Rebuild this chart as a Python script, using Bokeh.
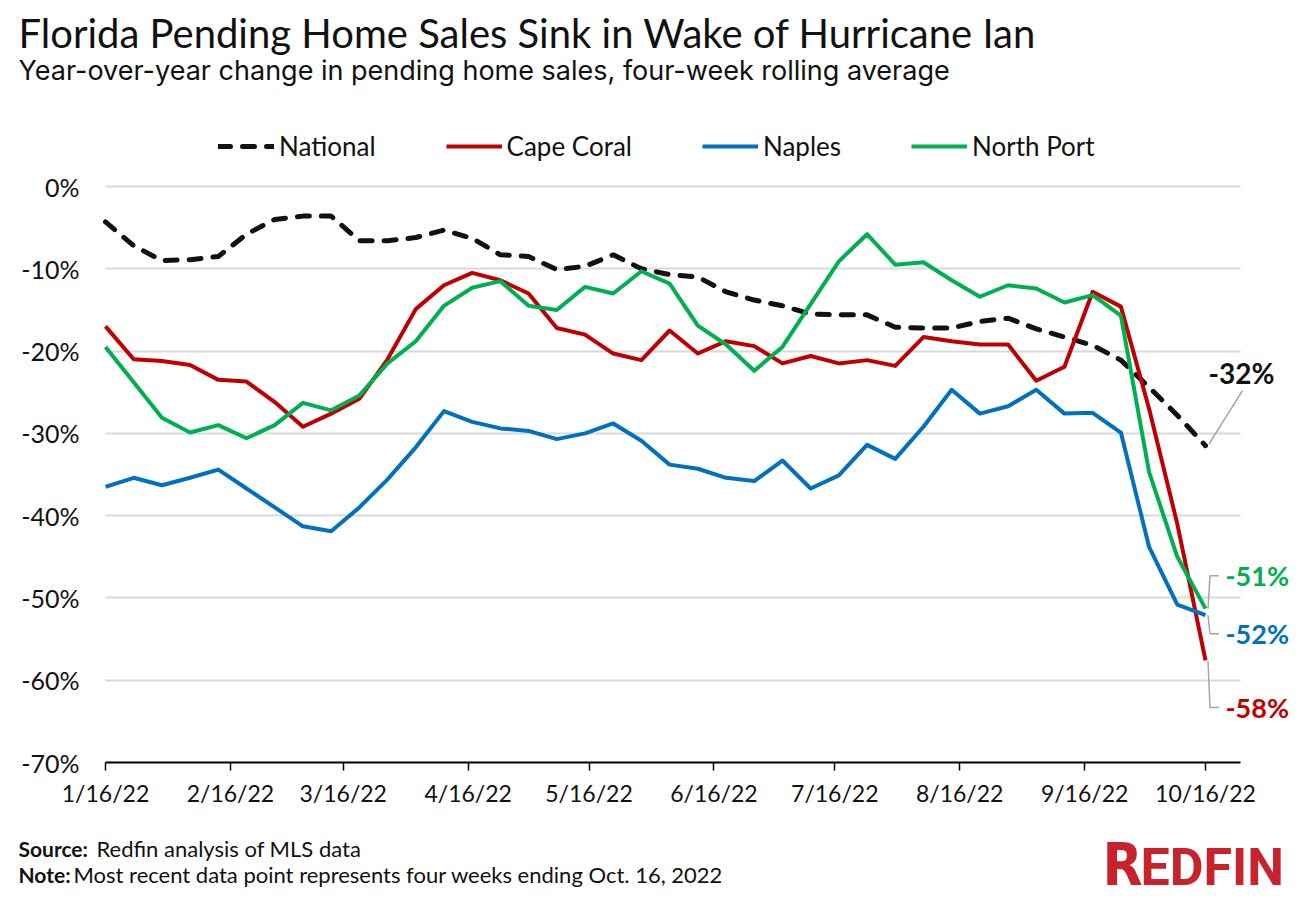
import pandas as pd
from bokeh.plotting import figure
from bokeh.models import Range1d, FixedTicker, Label, Legend, LegendItem
from bokeh.embed import file_html
from bokeh.resources import INLINE

# ---------------- data ----------------
start_date = "2022-01-16"
n_weeks = 40
week_dates = pd.date_range(start_date, periods=n_weeks, freq="7D")

tick_labels = ["1/16/22", "2/16/22", "3/16/22", "4/16/22", "5/16/22",
               "6/16/22", "7/16/22", "8/16/22", "9/16/22", "10/16/22"]
y_ticks = [0, -10, -20, -30, -40, -50, -60, -70]

series_names = ["National", "Cape Coral", "Naples", "North Port"]

national = [-4.3, -7.2, -9.0, -8.9, -8.5, -5.8, -4.0, -3.6, -3.6, -6.6,
            -6.6, -6.2, -5.3, -6.3, -8.3, -8.5, -10.1, -9.7, -8.3, -10.0,
            -10.7, -11.0, -12.8, -13.8, -14.5, -15.5, -15.6, -15.6, -17.1, -17.2,
            -17.2, -16.4, -16.0, -17.3, -18.3, -19.3, -21.1, -24.4, -27.8, -31.5]
cape_coral = [-17.0, -21.0, -21.2, -21.7, -23.5, -23.7, -26.2, -29.2, -27.6, -25.8,
              -21.0, -14.9, -12.0, -10.5, -11.4, -13.0, -17.2, -18.0, -20.3, -21.1,
              -17.5, -20.3, -18.8, -19.4, -21.5, -20.6, -21.5, -21.1, -21.8, -18.3,
              -18.8, -19.2, -19.2, -23.6, -21.9, -12.8, -14.6, -27.0, -41.0, -57.6]
naples = [-36.5, -35.4, -36.3, -35.4, -34.4, -36.7, -39.0, -41.3, -41.9, -39.0,
          -35.6, -31.7, -27.3, -28.6, -29.4, -29.7, -30.7, -30.0, -28.8, -30.9,
          -33.8, -34.3, -35.4, -35.8, -33.3, -36.7, -35.1, -31.4, -33.1, -29.2,
          -24.7, -27.6, -26.7, -24.7, -27.6, -27.5, -29.9, -43.8, -50.8, -52.1]
north_port = [-19.5, -23.8, -28.1, -29.9, -29.0, -30.6, -29.0, -26.3, -27.2, -25.4,
              -21.5, -18.8, -14.5, -12.3, -11.5, -14.5, -15.0, -12.2, -13.0, -10.3,
              -11.8, -16.9, -19.2, -22.4, -19.5, -14.3, -9.1, -5.8, -9.5, -9.2,
              -11.4, -13.4, -12.0, -12.4, -14.1, -13.2, -15.7, -34.7, -45.0, -51.3]

# ---------------- style / layout ----------------
FONT = "Lato"
colors = ["#111111", "#C00000", "#0070C0", "#00B050"]

x_days = [int(d) for d in (week_dates - week_dates[0]).days]
tick_pos = [int((pd.to_datetime(t, format="%m/%d/%y") - week_dates[0]).days) for t in tick_labels]

W, H = 1302, 899
X0, X_LAST, X_RIGHT = 105, 1205, 1240   # canvas px of first tick, last tick, plot right edge
Y0, Y70 = 186, 762                      # canvas px of 0% and -70%
px_per_day = (X_LAST - X0) / tick_pos[-1]
px_per_pct = (Y70 - Y0) / 70.0
x_start = -X0 / px_per_day
x_end = (W - X0) / px_per_day
x_plot_end = (X_RIGHT - X0) / px_per_day
y_top = Y0 / px_per_pct
y_bot = -(H - Y0) / px_per_pct

p = figure(width=W, height=H, output_backend="svg", toolbar_location=None,
           x_range=Range1d(x_start, x_end), y_range=Range1d(y_bot, y_top),
           min_border=0, min_border_left=0, min_border_right=0,
           min_border_top=0, min_border_bottom=0)
p.outline_line_color = None
p.background_fill_color = "white"
p.border_fill_color = "white"

# grid lines (limited horizontally to the plot area)
grid = p.ygrid[0]
grid.ticker = FixedTicker(ticks=y_ticks[:-1])
grid.grid_line_color = "#d9d9d9"
grid.grid_line_width = 2
if "cross_bounds" in type(grid).properties():
    grid.cross_bounds = (0, x_plot_end)
else:
    grid.visible = False
    p.segment(x0=[0] * (len(y_ticks) - 1), x1=[x_plot_end] * (len(y_ticks) - 1),
              y0=y_ticks[:-1], y1=y_ticks[:-1], line_color="#d9d9d9", line_width=2)
p.xgrid.visible = False

# axes (fixed inside the frame)
p.xaxis.fixed_location = y_ticks[-1]
p.xaxis.bounds = (0, x_plot_end)
p.xaxis.ticker = FixedTicker(ticks=tick_pos)
p.xaxis.major_label_overrides = {tp: lab for tp, lab in zip(tick_pos, tick_labels)}
p.xaxis.axis_line_color = "black"
p.xaxis.axis_line_width = 2
p.xaxis.major_tick_line_color = "black"
p.xaxis.major_tick_line_width = 1.5
p.xaxis.major_tick_out = 8
p.xaxis.major_tick_in = 0
p.xaxis.minor_tick_line_color = None
p.xaxis.major_label_standoff = 8
p.xaxis.major_label_text_font = FONT
p.xaxis.major_label_text_font_size = "23px"
p.xaxis.major_label_text_color = "#111111"

p.yaxis.fixed_location = 0
p.yaxis.ticker = FixedTicker(ticks=y_ticks)
p.yaxis.major_label_overrides = {t: f"{t}%" for t in y_ticks}
p.yaxis.axis_line_color = None
p.yaxis.major_tick_line_color = None
p.yaxis.minor_tick_line_color = None
p.yaxis.major_label_standoff = 20
p.yaxis.major_label_text_font = FONT
p.yaxis.major_label_text_font_size = "25px"
p.yaxis.major_label_text_color = "#111111"

# lines
series = [national, cape_coral, naples, north_port]
renderers = []
for name, vals, col in zip(series_names, series, colors):
    if name == "National":
        r = p.line(x_days, vals, line_color=col, line_width=5, line_dash="12 12", line_cap="round")
    else:
        r = p.line(x_days, vals, line_color=col, line_width=4, line_join="round")
    renderers.append(r)

legend = Legend(items=[LegendItem(label=n, renderers=[r]) for n, r in zip(series_names, renderers)],
                orientation="horizontal", location=(218, H - 148 - 14),
                padding=0, margin=0, spacing=70, glyph_width=56, glyph_height=28,
                label_standoff=5, border_line_color=None, background_fill_alpha=0,
                label_text_font=FONT, label_text_font_size="26px", label_text_color="#111111",
                label_height=28)
p.add_layout(legend, "center")

# end labels with leader lines
xl = x_days[-1]
def dx(px):
    return px / px_per_day
def dy(px):
    return px / px_per_pct

leader_col = "#a6a6a6"
v = national[-1]
p.line([xl + dx(3.5), xl + dx(37)], [v + dy(1.7), v + dy(55)], line_color=leader_col, line_width=1.5)
p.add_layout(Label(x=xl, y=v, x_offset=36, y_offset=73, text=f"{round(v)}%",
                   text_align="center", text_baseline="middle", text_font=FONT,
                   text_font_style="bold", text_font_size="28px", text_color=colors[0]))

for vals, col, off in [(north_port, colors[3], 33), (naples, colors[2], -18.5), (cape_coral, colors[1], -47)]:
    v = vals[-1]
    p.line([xl + dx(2.5), xl + dx(4.5), xl + dx(13.5)], [v, v + dy(off), v + dy(off)],
           line_color=leader_col, line_width=1.5)
    p.add_layout(Label(x=xl, y=v, x_offset=20, y_offset=off, text=f"{round(v)}%",
                       text_align="left", text_baseline="middle", text_font=FONT,
                       text_font_style="bold", text_font_size="27px", text_color=col))

# titles and footer (screen units: from canvas bottom-left)
def sy(cy):
    return H - cy

p.add_layout(Label(x=18, y=sy(32), x_units="screen", y_units="screen",
                   text="Florida Pending Home Sales Sink in Wake of Hurricane Ian",
                   text_font=FONT, text_font_size="40px", text_color="#111111",
                   text_baseline="middle"))
p.add_layout(Label(x=18, y=sy(70), x_units="screen", y_units="screen",
                   text="Year-over-year change in pending home sales, four-week rolling average",
                   text_font="Inter", text_font_size="27px", text_color="#111111",
                   text_baseline="middle"))

foot = [("Source:", "Redfin analysis of MLS data", 848, 96),
        ("Note:", "Most recent data point represents four weeks ending Oct. 16, 2022", 874, 73)]
for b, t, cy, x2 in foot:
    p.add_layout(Label(x=18, y=sy(cy), x_units="screen", y_units="screen", text=b,
                       text_font=FONT, text_font_style="bold", text_font_size="21px",
                       text_color="#111111", text_baseline="middle"))
    p.add_layout(Label(x=x2, y=sy(cy), x_units="screen", y_units="screen", text=t,
                       text_font=FONT, text_font_size="22px",
                       text_color="#111111", text_baseline="middle"))

p.add_layout(Label(x=1102, y=sy(864), x_units="screen", y_units="screen", text="R",
                   text_font="DejaVu Sans Condensed", text_font_style="bold",
                   text_font_size="58px", text_color="#C8232C", text_baseline="middle"))
p.add_layout(Label(x=1140, y=sy(867), x_units="screen", y_units="screen", text="EDFIN",
                   text_font="Roboto", text_font_style="bold",
                   text_font_size="52px", text_color="#C8232C", text_baseline="middle"))

open("out.html", "w").write(file_html(p, INLINE))
